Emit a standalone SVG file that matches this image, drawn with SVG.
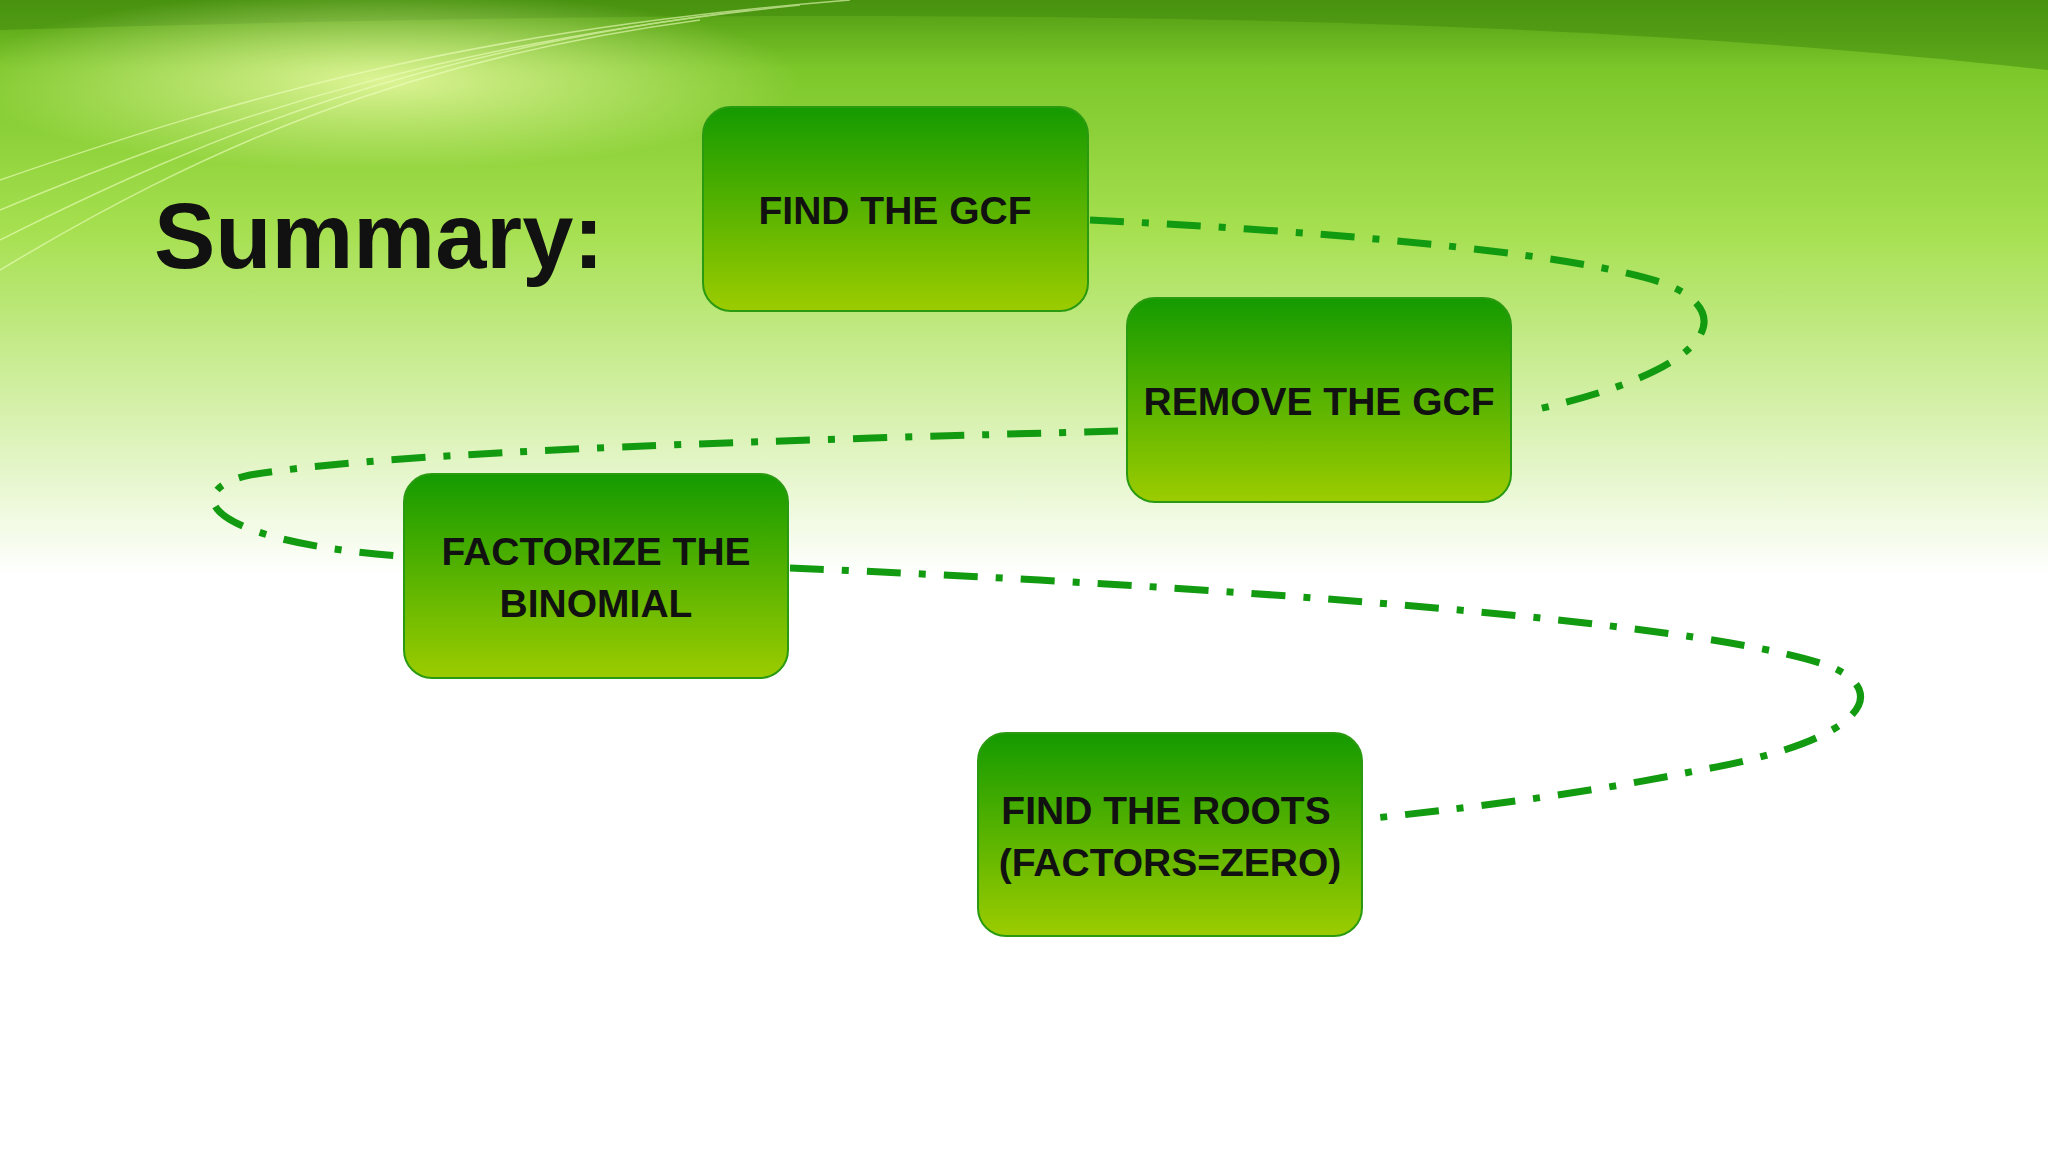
<svg xmlns="http://www.w3.org/2000/svg" width="2048" height="1152" viewBox="0 0 2048 1152">
<defs>
<linearGradient id="bg" x1="0" y1="0" x2="0" y2="1">
<stop offset="0" stop-color="#4f9a12"/>
<stop offset="0.06" stop-color="#7cc72a"/>
<stop offset="0.2" stop-color="#a6e050"/>
<stop offset="0.35" stop-color="#d4f0a8"/>
<stop offset="0.5" stop-color="#ffffff"/>
<stop offset="1" stop-color="#ffffff"/>
</linearGradient>
<linearGradient id="box" x1="0" y1="0" x2="0" y2="1">
<stop offset="0" stop-color="#149a00"/>
<stop offset="1" stop-color="#9ccc00"/>
</linearGradient>
<radialGradient id="glow" cx="0.5" cy="0.5" r="0.5">
<stop offset="0" stop-color="#f4ffb0" stop-opacity="0.8"/>
<stop offset="1" stop-color="#f4ffb0" stop-opacity="0"/>
</radialGradient>
<style>
.b{fill:url(#box);stroke:#2a9a10;stroke-width:2}
.t{font-family:"Liberation Sans",Arial,sans-serif;font-weight:bold;font-size:39px;fill:#111;text-anchor:middle}
.c{fill:none;stroke:#129a10;stroke-width:7;stroke-dasharray:34 18 7 18}
</style>
</defs>
<rect width="2048" height="1152" fill="url(#bg)"/>
<path d="M0 0 H2048 V70 C1600 20 1000 0 0 30 Z" fill="#3f8a0c" opacity="0.5"/>
<ellipse cx="380" cy="80" rx="420" ry="90" fill="url(#glow)"/>
<g stroke="#f0ffc0" stroke-width="1.5" opacity="0.6" fill="none">
<path d="M0 270 C200 150 400 60 700 20"/><path d="M0 240 C220 130 420 50 750 10"/><path d="M0 210 C240 110 460 40 800 5"/><path d="M0 180 C260 90 480 30 850 0"/>
</g>
<text x="154" y="268" font-family="Liberation Sans,Arial,sans-serif" font-weight="bold" font-size="92" fill="#111">Summary:</text>
<g id="connectors">
<path class="c" d="M1090 220 C1300 230 1560 250 1660 282 C1740 310 1720 370 1525 412"/>
<path class="c" d="M1118 431 C800 440 400 450 250 475 C180 490 200 540 398 556"/>
<path class="c" d="M790 568 C1200 585 1700 620 1829 666 C1890 690 1870 740 1700 770 C1580 795 1450 810 1365 819"/>
</g>
<g id="n1"><rect class="b" x="703" y="107" width="385" height="204" rx="28"/><text class="t" x="895" y="224">FIND THE GCF</text></g>
<g id="n2"><rect class="b" x="1127" y="298" width="384" height="204" rx="28"/><text class="t" x="1319" y="415">REMOVE THE GCF</text></g>
<g id="n3"><rect class="b" x="404" y="474" width="384" height="204" rx="28"/><text class="t" x="596" y="565">FACTORIZE THE</text><text class="t" x="596" y="617">BINOMIAL</text></g>
<g id="n4"><rect class="b" x="978" y="733" width="384" height="203" rx="28"/><text class="t" x="1166" y="824">FIND THE ROOTS</text><text class="t" x="1170" y="876">(FACTORS=ZERO)</text></g>
</svg>
